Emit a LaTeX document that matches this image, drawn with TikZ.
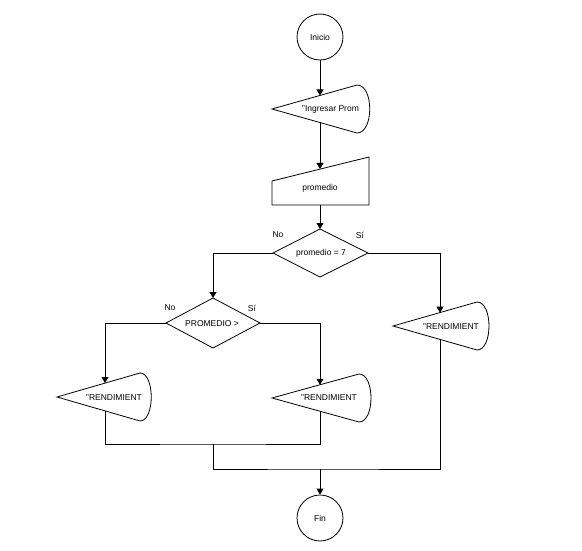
\documentclass[tikz,border=0pt]{standalone}
\usepackage{fontspec}
\setmainfont{Liberation Sans}
\usetikzlibrary{arrows.meta}
\begin{document}
\begin{tikzpicture}[x=1pt,y=-1pt,
  lbl/.style={font=\fontsize{8.5}{10}\selectfont, inner sep=0pt, text=black},
  shp/.style={draw=black,line width=0.8pt},
  conn/.style={draw=black,line width=0.8pt},
  arr/.style={conn,-{Triangle[length=6pt,width=7pt]}}]
\useasboundingbox[fill=white] (0,0) rectangle (582,551);

% terminals
\node[lbl,shp,circle,minimum size=46pt] (inicio) at (320,37) {Inicio};
\node[lbl,shp,circle,minimum size=46pt] (fin) at (320,518) {Fin};

% display 1
\draw[shp] (272,109) -- (357,85) .. controls (374,85) and (374,133) .. (357,133) -- cycle;
\node[lbl,anchor=west] (t1) at (302,109) {"Ingresar Prom};
\coordinate (d1top) at (320,95.5);
\coordinate (d1bot) at (320,122.5);

% manual input
\draw[shp] (272,181) -- (369,157) -- (369,205) -- (272,205) -- cycle;
\node[lbl] (t2) at (320,188) {promedio};
\coordinate (mtop) at (320,169);
\coordinate (mbot) at (320,205);

% decision 1
\draw[shp] (273,253) -- (320,229) -- (368,253) -- (320,277) -- cycle;
\node[lbl] (t3) at (321,253) {promedio = 7};
\coordinate (q1top) at (320,229);
\coordinate (q1l) at (273,253);
\coordinate (q1r) at (368,253);
\node[lbl] (no1) at (278,235) {No};
\node[lbl] (si1) at (360,235) {Sí};

% decision 2
\draw[shp] (166,323) -- (213,298) -- (260,323) -- (213,348) -- cycle;
\node[lbl,anchor=west] (t4) at (185,324) {PROMEDIO >};
\coordinate (q2top) at (213,298);
\coordinate (q2l) at (166,323);
\coordinate (q2r) at (260,323);
\node[lbl] (no2) at (170,308) {No};
\node[lbl] (si2) at (252,308) {Sí};

% right display
\draw[shp] (393,326) -- (477,302) .. controls (493,302) and (493,350) .. (477,350) -- cycle;
\node[lbl,anchor=west] (t5) at (423,327) {"RENDIMIENT};
\coordinate (rtop) at (440,312.6);
\coordinate (rbot) at (440,339.4);

% left display
\draw[shp] (57,397) -- (140,373) .. controls (155,373) and (155,421) .. (140,421) -- cycle;
\node[lbl,anchor=west] (t6) at (86,398) {"RENDIMIENT};
\coordinate (ltop) at (105,383);
\coordinate (lbot) at (105,411);

% middle display
\draw[shp] (272,398) -- (359,374) .. controls (375,374) and (375,422) .. (359,422) -- cycle;
\node[lbl,anchor=west] (t7) at (301,398) {"RENDIMIENT};
\coordinate (ctop) at (320,384.8);
\coordinate (cbot) at (320,411.2);

% merge points
\coordinate (j1) at (213,444);
\coordinate (j2) at (320,469);

% connectors
\draw[arr] (inicio) -- (d1top);
\draw[arr] (d1bot) -- (mtop);
\draw[arr] (mbot) -- (q1top);
\draw[arr] (q1l) -| (q2top);
\draw[arr] (q1r) -| (rtop);
\draw[arr] (q2l) -| (ltop);
\draw[arr] (q2r) -| (ctop);
\draw[conn] (lbot) |- (j1) -| (cbot);
\draw[conn] (j1) |- (j2) -| (rbot);
\draw[arr] (j2) -- (fin);
\end{tikzpicture}
\end{document}
